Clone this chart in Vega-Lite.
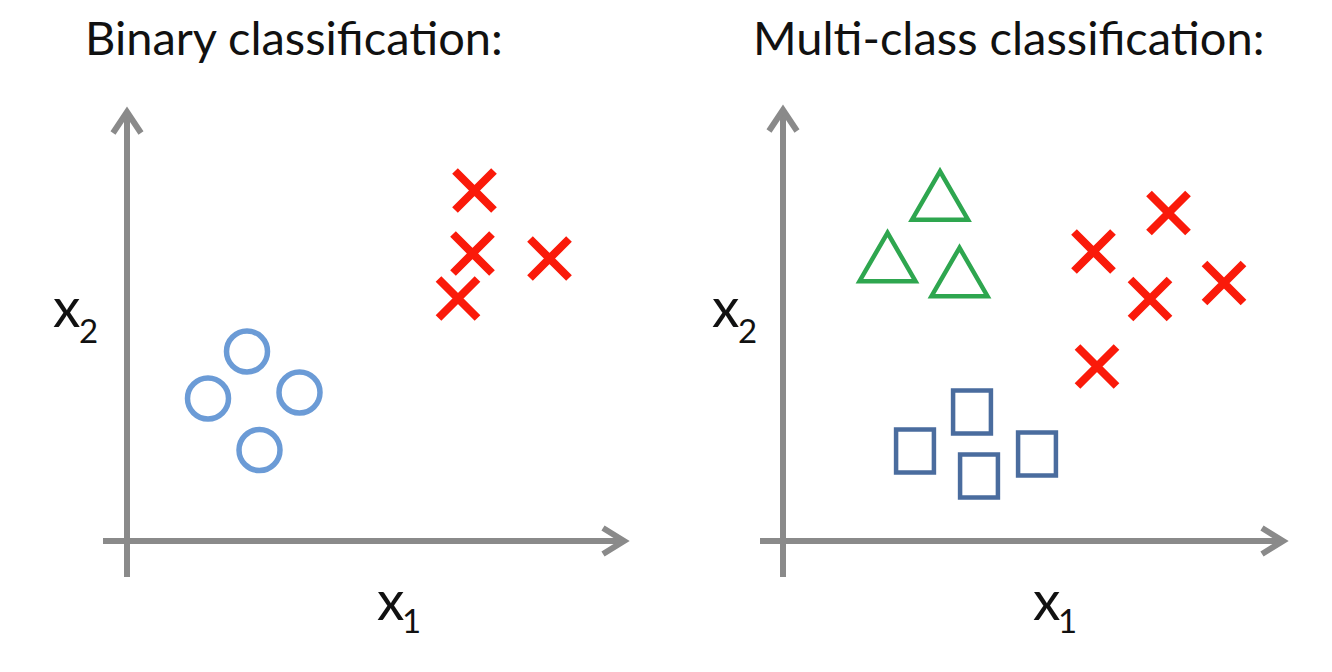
{
  "$schema": "https://vega.github.io/schema/vega-lite/v6.json",
  "padding": 0,
  "spacing": 0,
  "background": "white",
  "config": {"view": {"stroke": null}, "concat": {"spacing": 0}},
  "datasets": {
    "points": [
      {"panel": "binary", "cls": "cross", "x1": 6.95, "x2": 7.01},
      {"panel": "binary", "cls": "cross", "x1": 6.62, "x2": 4.85},
      {"panel": "binary", "cls": "cross", "x1": 6.91, "x2": 5.75},
      {"panel": "binary", "cls": "cross", "x1": 8.45, "x2": 5.65},
      {"panel": "binary", "cls": "circle", "x1": 2.40, "x2": 3.79},
      {"panel": "binary", "cls": "circle", "x1": 1.62, "x2": 2.85},
      {"panel": "binary", "cls": "circle", "x1": 3.45, "x2": 2.97},
      {"panel": "binary", "cls": "circle", "x1": 2.65, "x2": 1.82},
      {"panel": "multi", "cls": "triangle", "x1": 3.14, "x2": 6.91},
      {"panel": "multi", "cls": "triangle", "x1": 2.09, "x2": 5.68},
      {"panel": "multi", "cls": "triangle", "x1": 3.53, "x2": 5.38},
      {"panel": "multi", "cls": "square", "x1": 2.64, "x2": 1.80},
      {"panel": "multi", "cls": "square", "x1": 3.78, "x2": 2.58},
      {"panel": "multi", "cls": "square", "x1": 3.92, "x2": 1.30},
      {"panel": "multi", "cls": "square", "x1": 5.08, "x2": 1.74},
      {"panel": "multi", "cls": "cross", "x1": 6.21, "x2": 5.79},
      {"panel": "multi", "cls": "cross", "x1": 7.71, "x2": 6.56},
      {"panel": "multi", "cls": "cross", "x1": 7.34, "x2": 4.84},
      {"panel": "multi", "cls": "cross", "x1": 8.82, "x2": 5.16},
      {"panel": "multi", "cls": "cross", "x1": 6.28, "x2": 3.49}
    ],
    "axes": [
      {"panel": "binary", "seg": "yshaft", "ord": 1, "x1": 0, "x2": -0.72},
      {"panel": "binary", "seg": "yshaft", "ord": 2, "x1": 0, "x2": 8.58},
      {"panel": "binary", "seg": "yhead", "ord": 1, "x1": -0.28, "x2": 8.16},
      {"panel": "binary", "seg": "yhead", "ord": 2, "x1": 0, "x2": 8.58},
      {"panel": "binary", "seg": "yhead", "ord": 3, "x1": 0.28, "x2": 8.16},
      {"panel": "binary", "seg": "xshaft", "ord": 1, "x1": -0.48, "x2": 0},
      {"panel": "binary", "seg": "xshaft", "ord": 2, "x1": 9.94, "x2": 0},
      {"panel": "binary", "seg": "xhead", "ord": 1, "x1": 9.52, "x2": 0.26},
      {"panel": "binary", "seg": "xhead", "ord": 2, "x1": 9.94, "x2": 0},
      {"panel": "binary", "seg": "xhead", "ord": 3, "x1": 9.52, "x2": -0.26},
      {"panel": "multi", "seg": "yshaft", "ord": 1, "x1": 0, "x2": -0.72},
      {"panel": "multi", "seg": "yshaft", "ord": 2, "x1": 0, "x2": 8.62},
      {"panel": "multi", "seg": "yhead", "ord": 1, "x1": -0.28, "x2": 8.20},
      {"panel": "multi", "seg": "yhead", "ord": 2, "x1": 0, "x2": 8.62},
      {"panel": "multi", "seg": "yhead", "ord": 3, "x1": 0.28, "x2": 8.20},
      {"panel": "multi", "seg": "xshaft", "ord": 1, "x1": -0.46, "x2": 0},
      {"panel": "multi", "seg": "xshaft", "ord": 2, "x1": 10.0, "x2": 0},
      {"panel": "multi", "seg": "xhead", "ord": 1, "x1": 9.58, "x2": 0.26},
      {"panel": "multi", "seg": "xhead", "ord": 2, "x1": 10.0, "x2": 0},
      {"panel": "multi", "seg": "xhead", "ord": 3, "x1": 9.58, "x2": -0.26}
    ],
    "labels": [
      {"panel": "binary", "kind": "title", "text": "Binary classification:", "x1": -0.84, "x2": 9.72},
      {"panel": "binary", "kind": "main", "text": "x", "x1": 5.0, "x2": -1.58},
      {"panel": "binary", "kind": "sub", "text": "1", "x1": 5.5, "x2": -1.84},
      {"panel": "binary", "kind": "main", "text": "x", "x1": -1.48, "x2": 4.28},
      {"panel": "binary", "kind": "sub", "text": "2", "x1": -0.96, "x2": 3.96},
      {"panel": "multi", "kind": "title", "text": "Multi-class classification:", "x1": -0.6, "x2": 9.72},
      {"panel": "multi", "kind": "main", "text": "x", "x1": 5.0, "x2": -1.58},
      {"panel": "multi", "kind": "sub", "text": "1", "x1": 5.5, "x2": -1.84},
      {"panel": "multi", "kind": "main", "text": "x", "x1": -1.42, "x2": 4.28},
      {"panel": "multi", "kind": "sub", "text": "2", "x1": -0.9, "x2": 3.96}
    ]
  },
  "hconcat": [
    {
      "width": 666,
      "height": 672,
      "encoding": {
        "x": {"field": "x1", "type": "quantitative", "scale": {"domain": [-2.54, 10.78], "nice": false, "zero": false}, "axis": null},
        "y": {"field": "x2", "type": "quantitative", "scale": {"domain": [-2.62, 10.82], "nice": false, "zero": false}, "axis": null}
      },
      "layer": [
        {
          "data": {"name": "axes"},
          "transform": [{"filter": "datum.panel === 'binary'"}],
          "mark": {"type": "line", "color": "#8a8a8a", "strokeWidth": 6, "strokeJoin": "miter", "strokeCap": "butt"},
          "encoding": {"detail": {"field": "seg"}, "order": {"field": "ord", "type": "quantitative"}}
        },
        {
          "data": {"name": "points"},
          "transform": [{"filter": "datum.panel === 'binary' && datum.cls === 'circle'"}],
          "mark": {"type": "point", "shape": "circle", "size": 1681, "filled": false, "color": "#6b9bd6", "strokeWidth": 5.5, "opacity": 1}
        },
        {
          "data": {"name": "points"},
          "transform": [{"filter": "datum.panel === 'binary' && datum.cls === 'cross'"}],
          "mark": {"type": "point", "shape": "M-1,-1L1,1M1,-1L-1,1", "size": 1521, "filled": false, "color": "#fa1a0a", "strokeWidth": 8, "strokeCap": "butt", "opacity": 1}
        },
        {
          "data": {"name": "labels"},
          "transform": [{"filter": "datum.panel === 'binary' && datum.kind === 'title'"}],
          "mark": {"type": "text", "align": "left", "baseline": "alphabetic", "font": "Lato", "fontSize": 47, "color": "#111111"},
          "encoding": {"text": {"field": "text"}}
        },
        {
          "data": {"name": "labels"},
          "transform": [{"filter": "datum.panel === 'binary' && datum.kind === 'main'"}],
          "mark": {"type": "text", "align": "left", "baseline": "alphabetic", "font": "Lato", "fontSize": 55, "color": "#111111"},
          "encoding": {"text": {"field": "text"}}
        },
        {
          "data": {"name": "labels"},
          "transform": [{"filter": "datum.panel === 'binary' && datum.kind === 'sub'"}],
          "mark": {"type": "text", "align": "left", "baseline": "alphabetic", "font": "Lato", "fontSize": 33, "color": "#111111"},
          "encoding": {"text": {"field": "text"}}
        }
      ]
    },
    {
      "width": 666,
      "height": 672,
      "encoding": {
        "x": {"field": "x1", "type": "quantitative", "scale": {"domain": [-2.34, 10.98], "nice": false, "zero": false}, "axis": null},
        "y": {"field": "x2", "type": "quantitative", "scale": {"domain": [-2.62, 10.82], "nice": false, "zero": false}, "axis": null}
      },
      "layer": [
        {
          "data": {"name": "axes"},
          "transform": [{"filter": "datum.panel === 'multi'"}],
          "mark": {"type": "line", "color": "#8a8a8a", "strokeWidth": 6, "strokeJoin": "miter", "strokeCap": "butt"},
          "encoding": {"detail": {"field": "seg"}, "order": {"field": "ord", "type": "quantitative"}}
        },
        {
          "data": {"name": "points"},
          "transform": [{"filter": "datum.panel === 'multi' && datum.cls === 'triangle'"}],
          "mark": {"type": "point", "shape": "triangle-up", "size": 3136, "filled": false, "color": "#2ea64f", "strokeWidth": 4.5, "opacity": 1}
        },
        {
          "data": {"name": "points"},
          "transform": [{"filter": "datum.panel === 'multi' && datum.cls === 'square'"}],
          "mark": {"type": "point", "shape": "M-0.88,-1L0.88,-1L0.88,1L-0.88,1Z", "size": 1849, "filled": false, "color": "#4a6c9e", "strokeWidth": 4.5, "opacity": 1}
        },
        {
          "data": {"name": "points"},
          "transform": [{"filter": "datum.panel === 'multi' && datum.cls === 'cross'"}],
          "mark": {"type": "point", "shape": "M-1,-1L1,1M1,-1L-1,1", "size": 1521, "filled": false, "color": "#fa1a0a", "strokeWidth": 8, "strokeCap": "butt", "opacity": 1}
        },
        {
          "data": {"name": "labels"},
          "transform": [{"filter": "datum.panel === 'multi' && datum.kind === 'title'"}],
          "mark": {"type": "text", "align": "left", "baseline": "alphabetic", "font": "Lato", "fontSize": 47, "color": "#111111"},
          "encoding": {"text": {"field": "text"}}
        },
        {
          "data": {"name": "labels"},
          "transform": [{"filter": "datum.panel === 'multi' && datum.kind === 'main'"}],
          "mark": {"type": "text", "align": "left", "baseline": "alphabetic", "font": "Lato", "fontSize": 55, "color": "#111111"},
          "encoding": {"text": {"field": "text"}}
        },
        {
          "data": {"name": "labels"},
          "transform": [{"filter": "datum.panel === 'multi' && datum.kind === 'sub'"}],
          "mark": {"type": "text", "align": "left", "baseline": "alphabetic", "font": "Lato", "fontSize": 33, "color": "#111111"},
          "encoding": {"text": {"field": "text"}}
        }
      ]
    }
  ]
}
